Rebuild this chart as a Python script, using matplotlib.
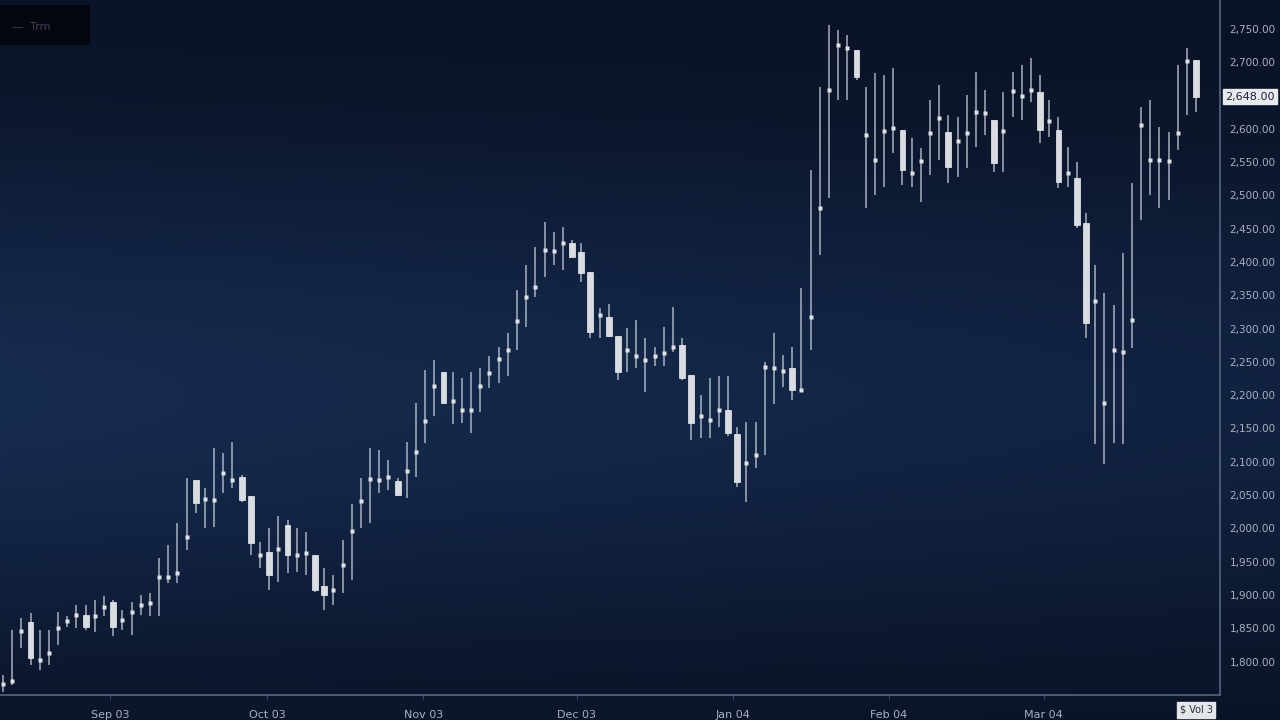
import numpy as np
import matplotlib.pyplot as plt
from matplotlib.patches import Rectangle

# OHLC (price units)
highs = [1780, 1848, 1866, 1873, 1848, 1848, 1875, 1868, 1885, 1885, 1893, 1898, 1893, 1878, 1890,
         1900, 1903, 1956, 1975, 2008, 2076, 2073, 2061, 2121, 2113, 2130, 2080, 2048, 1980, 2001,
         2018, 2013, 2001, 1995, 1960, 1941, 1930, 1983, 2036, 2076, 2121, 2118, 2103, 2076, 2130,
         2188, 2238, 2253, 2235, 2235, 2226, 2235, 2241, 2258, 2273, 2294, 2358, 2396, 2422, 2460,
         2445, 2452, 2433, 2428, 2385, 2331, 2337, 2289, 2301, 2313, 2286, 2273, 2302, 2332, 2286,
         2230, 2200, 2226, 2228, 2228, 2152, 2160, 2160, 2250, 2294, 2260, 2273, 2361, 2538, 2662,
         2756, 2748, 2740, 2718, 2662, 2684, 2680, 2691, 2598, 2586, 2571, 2643, 2666, 2620, 2618,
         2650, 2685, 2658, 2613, 2655, 2685, 2696, 2706, 2680, 2643, 2618, 2572, 2550, 2474, 2396,
         2354, 2336, 2414, 2518, 2632, 2643, 2602, 2595, 2696, 2721, 2703]
lows = [1755, 1765, 1821, 1795, 1788, 1795, 1825, 1852, 1851, 1848, 1845, 1868, 1838, 1848, 1840,
        1870, 1868, 1868, 1918, 1918, 1968, 2023, 2001, 2002, 2053, 2061, 2040, 1960, 1941, 1908,
        1920, 1933, 1935, 1930, 1905, 1878, 1885, 1903, 1923, 2001, 2008, 2053, 2058, 2048, 2046,
        2077, 2128, 2168, 2186, 2156, 2158, 2143, 2174, 2211, 2218, 2228, 2268, 2302, 2348, 2378,
        2396, 2388, 2408, 2370, 2286, 2286, 2288, 2223, 2234, 2241, 2204, 2243, 2243, 2264, 2223,
        2133, 2136, 2136, 2152, 2138, 2062, 2040, 2091, 2110, 2186, 2212, 2193, 2204, 2268, 2410,
        2496, 2643, 2643, 2673, 2481, 2500, 2512, 2564, 2516, 2512, 2490, 2530, 2553, 2518, 2528,
        2541, 2572, 2590, 2535, 2535, 2618, 2613, 2640, 2578, 2588, 2511, 2512, 2451, 2286, 2126,
        2096, 2128, 2126, 2271, 2463, 2500, 2481, 2493, 2568, 2620, 2625]
opens = [1766, 1768, 1843, 1806, 1801, 1812, 1850, 1860, 1869, 1852, 1867, 1881, 1852, 1861, 1873,
         1884, 1887, 1926, 1926, 1932, 1986, 2038, 2043, 2041, 2082, 2071, 2043, 1978, 1959, 1930,
         1968, 1960, 1959, 1962, 1908, 1900, 1906, 1944, 1995, 2040, 2073, 2071, 2076, 2050, 2085,
         2113, 2160, 2212, 2188, 2190, 2176, 2176, 2212, 2232, 2253, 2266, 2310, 2346, 2361, 2416,
         2415, 2427, 2428, 2415, 2385, 2322, 2318, 2289, 2266, 2258, 2252, 2258, 2262, 2271, 2276,
         2230, 2168, 2161, 2176, 2178, 2142, 2097, 2109, 2241, 2240, 2235, 2208, 2206, 2316, 2480,
         2656, 2724, 2720, 2718, 2589, 2552, 2595, 2600, 2598, 2532, 2550, 2592, 2614, 2595, 2580,
         2592, 2624, 2622, 2613, 2595, 2655, 2648, 2656, 2655, 2610, 2598, 2532, 2526, 2458, 2340,
         2187, 2266, 2264, 2312, 2604, 2552, 2552, 2550, 2592, 2700, 2703]
closes = [1768, 1773, 1848, 1860, 1804, 1815, 1852, 1863, 1872, 1870, 1870, 1884, 1890, 1864, 1876,
          1887, 1890, 1929, 1929, 1935, 1989, 2073, 2046, 2044, 2085, 2074, 2077, 2048, 1962, 1965,
          1971, 2005, 1962, 1965, 1960, 1913, 1910, 1947, 1998, 2043, 2076, 2074, 2079, 2071, 2088,
          2116, 2163, 2215, 2235, 2193, 2180, 2180, 2215, 2235, 2256, 2270, 2313, 2349, 2364, 2420,
          2418, 2430, 2408, 2384, 2295, 2319, 2289, 2235, 2270, 2260, 2254, 2260, 2265, 2274, 2226,
          2158, 2170, 2164, 2180, 2143, 2070, 2100, 2112, 2244, 2242, 2238, 2241, 2209, 2319, 2482,
          2660, 2727, 2722, 2678, 2592, 2554, 2598, 2602, 2538, 2535, 2553, 2595, 2618, 2542, 2583,
          2595, 2626, 2625, 2548, 2598, 2658, 2650, 2660, 2598, 2613, 2520, 2535, 2456, 2308, 2343,
          2190, 2270, 2266, 2314, 2607, 2554, 2554, 2553, 2595, 2703, 2648]

price_ticks = [1800, 1850, 1900, 1950, 2000, 2050, 2100, 2150, 2200, 2250, 2300, 2350, 2400,
               2450, 2500, 2550, 2600, 2700, 2750]
date_labels = ["Sep 03", "Oct 03", "Nov 03", "Dec 03", "Jan 04", "Feb 04", "Mar 04"]
date_pos = [11.7, 28.8, 45.8, 62.5, 79.5, 96.5, 113.4]

fig = plt.figure(figsize=(12.8, 7.2), dpi=100)

# background gradient over the whole figure
bg = fig.add_axes([0, 0, 1, 1], zorder=-10)
yy = np.linspace(0, 1, 200)[:, None]
xx = np.linspace(0, 1, 320)[None, :]
glow = np.exp(-((yy - 0.55) ** 2) / 0.12) * (1 - 0.35 * xx)
top = np.array([0.035, 0.065, 0.14])
mid = np.array([0.085, 0.17, 0.31])
img = top[None, None, :] + (mid - top)[None, None, :] * glow[:, :, None]
bg.imshow(np.clip(img, 0, 1), aspect="auto", extent=[0, 1, 0, 1], origin="upper")
bg.axis("off")

ax = fig.add_axes([0, 25 / 720, 1220 / 1280, 695 / 720])
ax.set_facecolor("none")

n = len(opens)
x = np.arange(n)
wick_col = "#c3cad6"
body_col = "#d9dde2"
for i in range(n):
    ax.vlines(x[i], lows[i], highs[i], color=wick_col, lw=1.1, alpha=0.85, zorder=2)
    lo = min(opens[i], closes[i])
    span = abs(closes[i] - opens[i])
    if span < 6:
        # tiny doji bodies show as small dots
        ax.plot(x[i], (opens[i] + closes[i]) / 2, "s", ms=3, color="#dfe3e8",
                mec="none", zorder=3)
    else:
        ax.add_patch(Rectangle((x[i] - 0.32, lo), 0.64, span, facecolor=body_col,
                               edgecolor="#eef0f2", lw=0.5, zorder=3))

ax.set_xlim(-0.33, 132.6)
ax.set_ylim(1750, 2793)

for s in ["top", "left"]:
    ax.spines[s].set_visible(False)
for s in ["right", "bottom"]:
    ax.spines[s].set_color("#56657f")
    ax.spines[s].set_linewidth(1.2)

ax.yaxis.tick_right()
ax.set_yticks(price_ticks)
ax.set_yticklabels([f"{v:,.2f}" for v in price_ticks])
ax.tick_params(axis="y", length=0, pad=7, labelsize=7.5, labelcolor="#a9b1c1")
ax.set_xticks(date_pos)
ax.set_xticklabels(date_labels)
ax.tick_params(axis="x", length=3, color="#3e4b64", pad=8, labelsize=8, labelcolor="#a9b1c1")

# last price tag
last = closes[-1]
ax.annotate(f"{last:,.2f}", xy=(1.0, last), xycoords=("axes fraction", "data"),
            xytext=(4, 0), textcoords="offset points", va="center", ha="left",
            fontsize=8, color="#1a2238",
            bbox=dict(boxstyle="square,pad=0.2", fc="#e8eaee", ec="#e8eaee"))

# top-left legend box and bottom-right volume tag
fig.patches.append(Rectangle((0, 1 - 45 / 720), 90 / 1280, 40 / 720, transform=fig.transFigure,
                             facecolor="#03060d", edgecolor="none", zorder=5))
fig.text(12 / 1280, 1 - 27 / 720, "—  Trm", color="#3a4256", fontsize=8, va="center", zorder=6)
fig.text(1196 / 1280, 10 / 720, "$ Vol 3", color="#2a3040", fontsize=7, ha="center", va="center",
         bbox=dict(boxstyle="square,pad=0.3", fc="#e4e6ea", ec="#e4e6ea"))

fig.savefig("out.png", dpi=100)
